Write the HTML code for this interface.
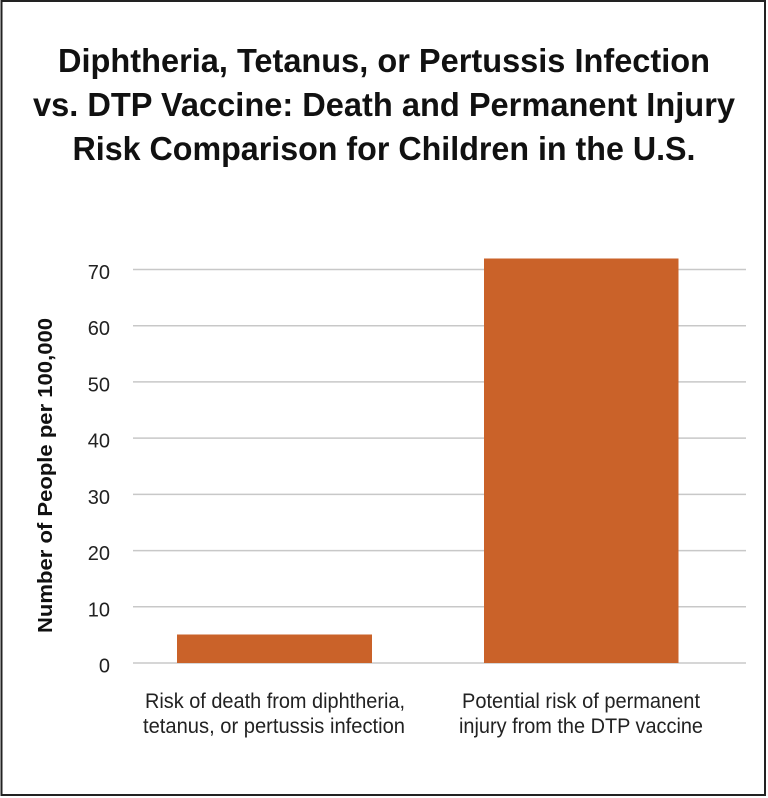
<!DOCTYPE html>
<html>
<head>
<meta charset="utf-8">
<style>
  html, body { margin: 0; padding: 0; background: #fff; }
  body { width: 768px; height: 798px; overflow: hidden; }
  svg { display: block; }
  .title { font-family: "Liberation Sans Narrow", "Liberation Sans", sans-serif; font-weight: bold; font-size: 33px; fill: #111; }
  .tick { font-family: "Liberation Sans", sans-serif; font-size: 20px; fill: #222; }
  .xl { font-family: "Liberation Sans Narrow", "Liberation Sans", sans-serif; font-size: 21px; fill: #222; }
  .yl { font-family: "Liberation Sans", sans-serif; font-weight: bold; font-size: 20px; fill: #111; }
</style>
</head>
<body>
<svg width="768" height="798" viewBox="0 0 768 798" xmlns="http://www.w3.org/2000/svg">
  <rect x="0" y="0" width="768" height="798" fill="#fff"/>
  <!-- frame -->
  <rect x="1.5" y="1" width="763.5" height="794" fill="none" stroke="#222" stroke-width="2"/>

  <!-- title -->
  <text class="title" x="384" y="72" text-anchor="middle" textLength="652" lengthAdjust="spacingAndGlyphs">Diphtheria, Tetanus, or Pertussis Infection</text>
  <text class="title" x="384" y="116" text-anchor="middle" textLength="702" lengthAdjust="spacingAndGlyphs">vs. DTP Vaccine: Death and Permanent Injury</text>
  <text class="title" x="384" y="160" text-anchor="middle" textLength="623" lengthAdjust="spacingAndGlyphs">Risk Comparison for Children in the U.S.</text>

  <!-- gridlines -->
  <g stroke="#c8c8c8" stroke-width="1.5">
    <line x1="133" x2="746" y1="269.5" y2="269.5"/>
    <line x1="133" x2="746" y1="325.7" y2="325.7"/>
    <line x1="133" x2="746" y1="381.9" y2="381.9"/>
    <line x1="133" x2="746" y1="438.1" y2="438.1"/>
    <line x1="133" x2="746" y1="494.4" y2="494.4"/>
    <line x1="133" x2="746" y1="550.6" y2="550.6"/>
    <line x1="133" x2="746" y1="606.8" y2="606.8"/>
    <line x1="133" x2="746" y1="663" y2="663"/>
  </g>

  <!-- tick labels -->
  <g class="tick" text-anchor="end">
    <text x="110" y="279">70</text>
    <text x="110" y="335.2">60</text>
    <text x="110" y="391.4">50</text>
    <text x="110" y="447.6">40</text>
    <text x="110" y="503.9">30</text>
    <text x="110" y="560.1">20</text>
    <text x="110" y="616.3">10</text>
    <text x="110" y="672.5">0</text>
  </g>

  <!-- bars -->
  <rect x="177" y="634.5" width="195" height="28.5" fill="#CA6229"/>
  <rect x="484" y="258.5" width="194.5" height="404.5" fill="#CA6229"/>

  <!-- y-axis label -->
  <text class="yl" transform="translate(52,475.5) rotate(-90)" x="0" y="0" text-anchor="middle" textLength="315" lengthAdjust="spacingAndGlyphs">Number of People per 100,000</text>

  <!-- x labels -->
  <text class="xl" x="275" y="708" text-anchor="middle" textLength="260" lengthAdjust="spacingAndGlyphs">Risk of death from diphtheria,</text>
  <text class="xl" x="274" y="733" text-anchor="middle" textLength="262" lengthAdjust="spacingAndGlyphs">tetanus, or pertussis infection</text>
  <text class="xl" x="581" y="708" text-anchor="middle" textLength="238" lengthAdjust="spacingAndGlyphs">Potential risk of permanent</text>
  <text class="xl" x="581" y="733" text-anchor="middle" textLength="244" lengthAdjust="spacingAndGlyphs">injury from the DTP vaccine</text>
</svg>
</body>
</html>
